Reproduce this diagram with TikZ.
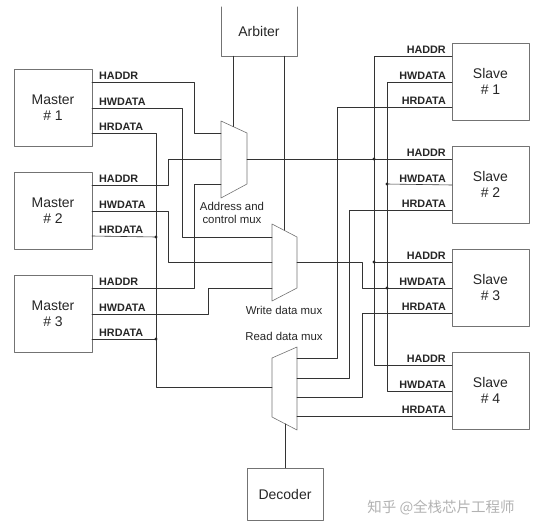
\documentclass[tikz,border=0pt]{standalone}
\usepackage{fontspec}
\setmainfont{Liberation Sans}
\newfontfamily\zhfont{Noto Sans CJK SC}

\begin{document}
\begin{tikzpicture}[line cap=round,line join=round,x=1pt,y=-1pt,
  blk/.style={draw=black!55,line width=.6pt,minimum width=78pt,minimum height=77pt,inner sep=0pt,align=center,text=black!85,font=\fontsize{14}{15.5}\selectfont},
  sig/.style={inner sep=0pt,text=black!85,font=\fontsize{10.8}{12}\selectfont\bfseries},
  lbl/.style={inner sep=0pt,align=center,text=black!85,font=\fontsize{11.4}{12.5}\selectfont},
  wire/.style={draw=black!80,line width=.6pt},
  mux/.style={draw=black!55,line width=.6pt}]
\useasboundingbox (0,0) rectangle (541,530);

% masters
\foreach \i/\t in {1/69,2/172,3/275}{
  \node[blk] (m\i) at (53,\t+38.5) {Master\\\# \i};
  \coordinate (ma\i) at (92,\t+13);
  \coordinate (mw\i) at (92,\t+39);
  \coordinate (mr\i) at (92,\t+64);
  \node[sig,anchor=base west] (lma\i) at (99,\t+10) {HADDR};
  \node[sig,anchor=base west] (lmw\i) at (99,\t+36) {HWDATA};
  \node[sig,anchor=base west] (lmr\i) at (99,\t+61) {HRDATA};
}

% slaves
\foreach \i/\t in {1/43,2/146,3/249,4/352}{
  \node[blk,minimum width=77pt] (s\i) at (490.5,\t+38.5) {Slave\\\# \i};
  \coordinate (sa\i) at (452,\t+13);
  \coordinate (sw\i) at (452,\t+39);
  \coordinate (sr\i) at (452,\t+64);
  \node[sig,anchor=base east] (lsa\i) at (446,\t+10) {HADDR};
  \node[sig,anchor=base east] (lsw\i) at (446,\t+36) {HWDATA};
  \node[sig,anchor=base east] (lsr\i) at (446,\t+61) {HRDATA};
}

% arbiter and decoder
\node[minimum width=76pt,minimum height=49pt,inner sep=0pt,text=black!85,font=\fontsize{14}{15.5}\selectfont] (arb) at (259,31.5) {Arbiter};
\draw[mux] (arb.north west) -- (arb.south west) -- (arb.south east) -- (arb.north east);
\node[blk,minimum width=76pt,minimum height=52pt] (dec) at (285,494) {Decoder};

% muxes
\draw[mux] (221,121) -- (247,133) -- (247,184) -- (221,198) -- cycle;
\draw[mux] (272,224) -- (297,237) -- (297,288) -- (272,301) -- cycle;
\draw[mux] (272,358) -- (297,347) -- (297,430) -- (272,417) -- cycle;
\coordinate (ai1) at (221,133);
\coordinate (ai2) at (221,159);
\coordinate (ai3) at (221,184);
\coordinate (ao) at (247,159);
\coordinate (asel) at (233,126.5);
\coordinate (wi1) at (272,237);
\coordinate (wi2) at (272,262);
\coordinate (wi3) at (272,288);
\coordinate (wo) at (297,262);
\coordinate (wsel) at (284,230.2);
\coordinate (ri1) at (297,358);
\coordinate (ri2) at (297,378);
\coordinate (ri3) at (297,397);
\coordinate (ri4) at (297,416);
\coordinate (ro) at (272,387);
\coordinate (rsel) at (285,423.8);
\node[lbl] (amuxl) at (232,213) {Address and\\control mux};
\node[lbl] (wmuxl) at (284,310) {Write data mux};
\node[lbl] (rmuxl) at (284,336) {Read data mux};

% select lines
\draw[wire] (arb.south -| asel) -- (asel);
\draw[wire] (arb.south -| wsel) -- (wsel);
\draw[wire] (rsel) -- (dec.north);

% master side
\draw[wire] (ma1) -| (194,133) -- (ai1);
\draw[wire] (ma2) -| (168,159) -- (ai2);
\draw[wire] (ma3) -| (194,184) -- (ai3);
\draw[wire] (mw1) -| (182,237) -- (wi1);
\draw[wire] (mw2) -| (168,262) -- (wi2);
\draw[wire] (mw3) -| (208,288) -- (wi3);
\draw[wire] (ro) -| (156,133) -- (mr1);
\draw[wire] (mr2) -- (156,237);
\draw[wire] (mr3) -- (156,339);

% slave side
\draw[wire] (ao) -- (sa2);
\draw[wire] (sa1) -| (374,365) -- (sa4);
\draw[wire] (374,262) -- (sa3);
\draw[wire] (wo) -| (362,288) -- (sw3);
\draw[wire] (sw1) -| (387,391) -- (sw4);
\draw[wire] (387,184) -- (sw2);
\draw[wire] (sr1) -| (337,358) -- (ri1);
\draw[wire] (sr2) -| (349,378) -- (ri2);
\draw[wire] (sr3) -| (362,397) -- (ri3);
\draw[wire] (sr4) -- (ri4);

\foreach \p in {(156,237),(156,339),(374,159),(374,262),(387,184),(387,288)}
  \fill[black!85] \p circle (1.7pt);

\node[text=black!30,font=\zhfont\fontsize{14.5}{16}\selectfont] (wm) at (441,508) {知乎 @全栈芯片工程师};
\end{tikzpicture}
\end{document}
